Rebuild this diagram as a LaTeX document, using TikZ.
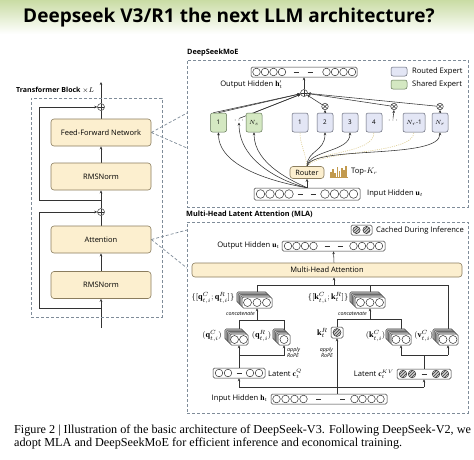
\documentclass[tikz,border=0pt]{standalone}
\usepackage{fontspec}
\setmainfont{Liberation Serif}
\setsansfont{Open Sans}
\newfontfamily\titlefont{Open Sans}
\usetikzlibrary{patterns,arrows.meta,calc}
\pgfdeclarelayer{back}
\pgfdeclarelayer{bg}
\pgfsetlayers{back,bg,main}
\definecolor{boxfill}{HTML}{FCEFCF}
\definecolor{boxdraw}{HTML}{8B7D5E}
\definecolor{dashc}{HTML}{7F8C99}
\definecolor{routfill}{HTML}{E3E6F5}
\definecolor{routdraw}{HTML}{5E6272}
\definecolor{shfill}{HTML}{D4E8C2}
\definecolor{shdraw}{HTML}{5F7453}
\definecolor{lnc}{HTML}{333333}
\definecolor{dotyel}{HTML}{DCCB8C}
\definecolor{barc}{HTML}{C29A4E}
\definecolor{titlegreen}{HTML}{C9DCA4}
\tikzset{
  lnk/.style={draw=lnc, line width=0.55pt},
  arr/.style={lnk, -{Stealth[length=3pt,width=2.6pt]}},
  ybox/.style={draw=boxdraw, fill=boxfill, rounded corners=3pt, line width=0.6pt, font=\sffamily\fontsize{7.5}{9}\selectfont, inner sep=0pt},
  dbox/.style={draw=dashc, dash pattern=on 3pt off 2pt, line width=0.7pt, inner sep=0pt},
  zoomline/.style={draw=dashc, dash pattern=on 3pt off 2pt, line width=0.7pt},
  vbox/.style={draw=black!80, fill=white, rounded corners=1.5pt, line width=0.5pt, inner sep=0pt},
  sback/.style={draw=black!75, fill=gray!55, rounded corners=1.5pt, line width=0.4pt, inner sep=0pt},
  circ/.style={draw=black!80, line width=0.5pt, fill=white},
  hcirc/.style={draw=black!80, line width=0.5pt, fill=gray!40, postaction={pattern=north east lines, pattern color=black!75}},
  expR/.style={draw=routdraw, fill=routfill, rounded corners=2pt, line width=0.5pt, inner sep=0pt, minimum width=16, minimum height=19, font=\sffamily\fontsize{6.3}{7}\selectfont},
  expS/.style={expR, draw=shdraw, fill=shfill},
  lbl/.style={font=\sffamily\fontsize{7.6}{8}\selectfont, inner sep=0pt},
  mlbl/.style={font=\sffamily\fontsize{8.2}{9}\selectfont, inner sep=0pt},
  ital/.style={font=\sffamily\itshape\fontsize{5.3}{6}\selectfont, inner sep=0pt},
  hdr/.style={font=\sffamily\bfseries\fontsize{7.3}{8}\selectfont, inner sep=0pt},
  cbase/.style={circle, draw=lnc, fill=white, line width=0.5pt, inner sep=0pt, minimum size=7pt},
  opl/.style={cbase, path picture={\draw[lnc, line width=0.5pt] (path picture bounding box.north) -- (path picture bounding box.south) (path picture bounding box.west) -- (path picture bounding box.east);}},
  otm/.style={cbase, minimum size=6.5pt, path picture={\draw[lnc, line width=0.5pt] (path picture bounding box.north east) -- (path picture bounding box.south west) (path picture bounding box.north west) -- (path picture bounding box.south east);}},
  dotl/.style={draw=dotyel, line width=0.6pt, dash pattern=on 1pt off 1.2pt},
}
\newcommand\mystack[5]{%
  \foreach \k in {4,3,2,1}{\node[sback, minimum width=#4, minimum height=#5] at ({#2-1.3*\k},{#3-1.3*\k}) {};}
  \node[vbox, minimum width=#4, minimum height=#5] (#1) at (#2,#3) {};}
\begin{document}
\begin{tikzpicture}[x=1pt,y=-1pt]
\useasboundingbox (0,0) rectangle (474,459);
\begin{pgfonlayer}{back}
\fill[white] (0,0) rectangle (474,459);
\shade[top color=titlegreen, bottom color=white] (0,0) rectangle (474,34);
\end{pgfonlayer}
\node[font=\titlefont\bfseries\fontsize{19}{22}\selectfont, inner sep=0pt] (title) at (229,17.5) {Deepseek V3/R1 the next LLM architecture?};

% ---------------- Transformer block ----------------
\node[hdr, anchor=west, font=\sffamily\bfseries\fontsize{7}{8}\selectfont] (tblab) at (16,90) {Transformer Block $\times L$};
\node[dbox, minimum width=131, minimum height=219] (tbox) at (96.5,207.5) {};
\node[ybox, minimum width=100, minimum height=27] (ffn) at (101,132.5) {Feed-Forward Network};
\node[ybox, minimum width=100, minimum height=27] (rms1) at (101,176.5) {RMSNorm};
\node[ybox, minimum width=100, minimum height=27] (att) at (101,239.5) {Attention};
\node[ybox, minimum width=100, minimum height=27] (rms2) at (101,285) {RMSNorm};
\node[opl] (op1) at (101,107) {};
\node[opl] (op2) at (101,212) {};
\coordinate (tin) at (101,328);
\coordinate (tout) at (101,82);
\coordinate (r1) at (101,200);
\coordinate (r2) at (101,308);
\coordinate (z1) at (187,113);
\coordinate (z2) at (187,148);
\coordinate (z3) at (187,230);
\coordinate (z4) at (187,268);

% ---------------- DeepSeekMoE ----------------
\node[hdr, anchor=west] (moelab) at (187,53) {DeepSeekMoE};
\node[dbox, minimum width=281, minimum height=147] (moebox) at (327.5,133.5) {};
\node[vbox, minimum width=106, minimum height=10] (hout) at (304,72) {};
\foreach \x in {256.5,265,273.5,282,326.5,335,343.5,352} \draw[circ] (\x,72) circle (3.8);
\draw[lnk] (293.5,72)--(298.5,72) (307.5,72)--(312.5,72);
\node[lbl, anchor=east] (houtlab) at (283,84.5) {Output Hidden $\mathbf{h}'_t$};
\node[opl] (moeop) at (304,93) {};
\node[expR] (legr) at (399,71.5) [minimum height=9] {};
\node[lbl, anchor=west] (legrt) at (412,71.5) {Routed Expert};
\node[expS] (legs) at (399,84.5) [minimum height=9] {};
\node[lbl, anchor=west] (legst) at (412,84.5) {Shared Expert};

\node[expS] (s1) at (218.5,122.5) {1};
\node[lbl] (sdots) at (239,120.5) {$\cdots$};
\node[expS] (sN) at (254,122.5) {$N_s$};
\node[expR] (e1) at (300,122.5) {1};
\node[expR] (e2) at (325,122.5) {2};
\node[expR] (e3) at (350,122.5) {3};
\node[expR] (e4) at (374,122.5) {4};
\node[lbl] (edots) at (393,120.5) {$\cdots$};
\node[expR, minimum width=22] (eN1) at (414,122.5) {$N_r$-1};
\node[expR] (eN) at (440,122.5) {$N_r$};
\node[otm] (g1) at (325,106.5) {};
\node[otm] (g2) at (394,106.5) {};
\node[otm] (g3) at (440,106.5) {};

\node[ybox, minimum width=34, minimum height=12, font=\sffamily\fontsize{7.3}{8}\selectfont] (router) at (307,172.5) {Router};
\foreach \i/\h in {0/5,1/8,2/4,3/10,4/6,5/9,6/7,7/11} \fill[barc] ({330+2.2*\i},177) rectangle ++(1.6,-\h);
\draw[barc, line width=0.5pt] (329.5,177.2) -- (348,177.2);
\node[lbl, anchor=west] (topk) at (351,172) {Top-$K_r$};
\node[vbox, minimum width=106, minimum height=12] (uin) at (307,194) {};
\foreach \x in {260.5,270,279.5,289,325,334.5,344,353.5} \draw[circ] (\x,194) circle (4.3);
\draw[lnk] (297.5,194)--(302.5,194) (310.5,194)--(315.5,194);
\node[lbl, anchor=west] (uinlab) at (367,194) {Input Hidden $\mathbf{u}_t$};

% ---------------- MLA ----------------
\node[hdr, anchor=west] (mlalab) at (186,214) {Multi-Head Latent Attention (MLA)};
\node[dbox, minimum width=281, minimum height=191] (mlabox) at (327.5,317.5) {};
\node[vbox, minimum width=21, minimum height=10] (cache) at (361.5,230) {};
\foreach \x in {356.5,366.5} \draw[hcirc] (\x,230) circle (3.6);
\node[lbl, anchor=west] (cachelab) at (376,230) {Cached During Inference};
\node[vbox, minimum width=103, minimum height=10] (uout) at (333.5,246) {};
\foreach \x in {288,296.5,305,313.5,353.5,362,370.5,379} \draw[circ] (\x,246) circle (3.8);
\draw[lnk] (324.5,246)--(329.5,246) (337.5,246)--(342.5,246);
\node[lbl, anchor=east] (uoutlab) at (280,246) {Output Hidden $\mathbf{u}_t$};
\node[ybox, minimum width=270, minimum height=14] (mha) at (327,270) {Multi-Head Attention};

\mystack{qcat}{257}{302.5}{30}{11}
\foreach \x in {247.5,257,266.5} \draw[circ] (\x,302.5) circle (4);
\node[mlbl, anchor=east] (qcatlab) at (234.5,298) {$\{[\mathbf{q}^C_{t,i};\mathbf{q}^R_{t,i}]\}$};
\mystack{kcat}{370}{302.5}{30}{11}
\foreach \x in {360.5,370,379.5} \draw[circ] (\x,302.5) circle (4);
\node[mlbl, anchor=east] (kcatlab) at (348.5,298) {$\{[\mathbf{k}^C_{t,i};\mathbf{k}^R_{t}]\}$};
\node[ital, anchor=east] (qconc) at (255,313.5) {concatenate};
\node[ital, anchor=east] (kconc) at (367,313.5) {concatenate};

\mystack{qc}{239}{339.5}{18}{11}
\foreach \x in {234.5,243.5} \draw[circ] (\x,339.5) circle (4);
\node[mlbl, anchor=east] (qclab) at (222,336) {$(\mathbf{q}^C_{t,i})$};
\mystack{qr}{284}{339.5}{12}{11}
\draw[circ] (284,339.5) circle (4);
\node[mlbl, anchor=east] (qrlab) at (271.5,336) {$(\mathbf{q}^R_{t,i})$};
\node[ital, anchor=west, align=left] (qrope) at (287,352) {apply\\RoPE};
\node[vbox, minimum width=12, minimum height=11] (kr) at (337,332.5) {};
\draw[hcirc] (337,332.5) circle (4);
\node[mlbl, anchor=east] (krlab) at (328,333) {$\mathbf{k}^R_{t}$};
\node[ital, anchor=east, align=right] (krope) at (333,352) {apply\\RoPE};
\mystack{kc}{401}{339.5}{20}{11}
\foreach \x in {396,406} \draw[circ] (\x,339.5) circle (4);
\node[mlbl, anchor=east] (kclab) at (385.5,336) {$(\mathbf{k}^C_{t,i})$};
\mystack{vc}{448}{339.5}{20}{11}
\foreach \x in {443,453} \draw[circ] (\x,339.5) circle (4);
\node[mlbl, anchor=east] (vclab) at (433.5,336) {$(\mathbf{v}^C_{t,i})$};

\node[vbox, minimum width=52, minimum height=10] (cq) at (239,373) {};
\foreach \x in {219,228,250,259} \draw[circ] (\x,373) circle (3.8);
\draw[lnk] (236.5,373)--(241.5,373);
\node[lbl, anchor=west] (cqlab) at (268,373.5) {Latent $\mathbf{c}^Q_t$};
\node[vbox, minimum width=54, minimum height=10] (ckv) at (424,374) {};
\foreach \x in {403,412,436,445} \draw[hcirc] (\x,374) circle (3.8);
\draw[lnk] (421.5,374)--(426.5,374);
\node[lbl, anchor=east] (ckvlab) at (394,374.5) {Latent $\mathbf{c}^{KV}_t$};
\node[vbox, minimum width=116, minimum height=10] (hin) at (329,399) {};
\foreach \x in {276.5,285.5,294.5,303.5,354.5,362.5,371.5,380.5} \draw[circ] (\x,399) circle (3.8);
\draw[lnk] (316,399)--(321,399) (340,399)--(345,399);
\node[lbl, anchor=east] (hinlab) at (268,399) {Input Hidden $\mathbf{h}_t$};

\coordinate (mjoin) at (334,285);
\coordinate (qj) at (257,320);
\coordinate (kj) at (370,319);
\coordinate (qrj) at (239,355);
\coordinate (kvj) at (424,355);
\coordinate (ij) at (337,387);

% ---------------- Caption ----------------
\node[anchor=north west, align=left, inner sep=0pt, font=\fontsize{12.2}{12.6}\selectfont] (cap) at (14,425) {Figure 2 | Illustration of the basic architecture of DeepSeek-V3. Following DeepSeek-V2, we\\adopt MLA and DeepSeekMoE for efficient inference and economical training.};

% ---------------- connectors ----------------
\begin{pgfonlayer}{bg}
\draw[arr] (tin) -- (rms2.south);
\draw[arr] (rms2.north) -- (att.south);
\draw[lnk] (att.north) -- (op2.south);
\draw[arr] (op2.north) -- (rms1.south);
\draw[arr] (rms1.north) -- (ffn.south);
\draw[lnk] (ffn.north) -- (op1.south);
\draw[arr] (op1.north) -- (tout);
\draw[arr] (r2) -- ++(-62,0) |- (op2.west);
\draw[arr] (r1) -- ++(-62,0) |- (op1.west);
\draw[zoomline] (ffn.east) -- (z1) (ffn.east) -- (z2);
\draw[zoomline] (att.east) -- (z3) (att.east) -- (z4);

\draw[arr] (moeop.north) -- (hout.south);
\draw[arr] (e2.north) -- (g1.south);
\draw[arr] (edots.north) -- (g2.south);
\draw[arr] (eN.north) -- (g3.south);
\draw[arr] (g1) -- (moeop);
\draw[arr] (g2) -- (moeop);
\draw[arr] (g3) -- (moeop);
\draw[arr] ($(s1.north west)+(3,0)$) -- (moeop);
\draw[arr] (s1.north) -- (moeop);
\draw[arr] (sdots.north) -- (moeop);
\draw[arr] (sN.north) -- (moeop);
\draw[arr] (uin.north) .. controls (285,184) and (218,170) .. (s1.south);
\draw[arr] (uin.north) .. controls (290,184) and (239,165) .. (sdots.south);
\draw[arr] (uin.north) .. controls (295,182) and (254,165) .. (sN.south);
\draw[arr] (uin.north) -- (router.south);
\draw[dotl] (router.north) .. controls (305,150) and (300,145) .. (e1.south);
\draw[dotl] (router.north) .. controls (315,150) and (374,155) .. (e4.south);
\draw[dotl] (router.north) .. controls (318,150) and (414,155) .. (eN1.south);
\draw[arr] (router.north) .. controls (307,150) and (325,152) .. (e2.south);
\draw[arr] (router.north) .. controls (309,150) and (350,152) .. (e3.south);
\draw[arr] (router.north) .. controls (312,145) and (440,160) .. (eN.south);

\draw[arr] (mjoin |- mha.north) -- (uout.south);
\draw[arr] (mjoin) -- (mjoin |- mha.south);
\draw[lnk] (qcat.north) -- (qcat.north |- mjoin) -- (vc.north |- mjoin) -- (vc.north);
\draw[lnk] (kcat.north) -- (kcat.north |- mjoin);
\draw[lnk] (qc.north) -- (qc.north |- qj) -- (qr.north |- qj) -- (qr.north);
\draw[arr] (qj) -- (qcat.south);
\draw[lnk] (kr.north) -- (kr.north |- kj) -- (kc.north |- kj) -- (kc.north);
\draw[arr] (kj) -- (kcat.south);
\draw[arr] (cq.north) -- (qc.south);
\draw[arr] (qrj) -| (qr.south);
\draw[lnk] (ckv.north) -- (kvj);
\draw[lnk] (kc.south |- kvj) -- (vc.south |- kvj);
\draw[arr] (kc.south |- kvj) -- (kc.south);
\draw[arr] (vc.south |- kvj) -- (vc.south);
\draw[arr] (hin.north -| kr) -- (kr.south);
\draw[lnk] (cq.south |- ij) -- (ckv.south |- ij);
\draw[arr] (cq.south |- ij) -- (cq.south);
\draw[arr] (ckv.south |- ij) -- (ckv.south);
\end{pgfonlayer}
\end{tikzpicture}
\end{document}
